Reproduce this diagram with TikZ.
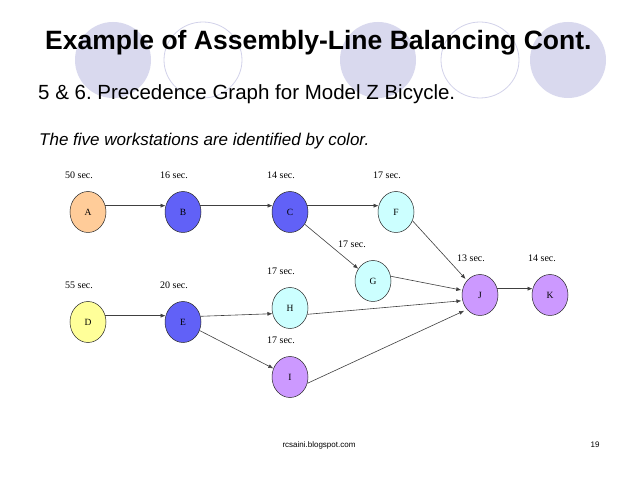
\documentclass[tikz,border=0pt]{standalone}
\usepackage{fontspec}
\setmainfont{Liberation Serif}
\newfontfamily\slidefont{Liberation Sans}
\usetikzlibrary{positioning,shapes.geometric,arrows.meta}

\definecolor{decofill}{HTML}{D9D9EE}
\definecolor{decoline}{HTML}{D2D2EA}
\definecolor{peach}{HTML}{FFCC99}
\definecolor{stationblue}{HTML}{6161F7}
\definecolor{paleyellow}{HTML}{FFFF99}
\definecolor{palecyan}{HTML}{CCFFFF}
\definecolor{lilac}{HTML}{CC99FF}

\frenchspacing

\begin{document}
\begin{tikzpicture}[x=1pt,y=-1pt,
    task/.style={ellipse, draw=black!85, line width=0.5pt, minimum width=36pt,
      minimum height=41pt, inner sep=0pt, font=\fontsize{9.5}{10}\selectfont},
    secs/.style={inner sep=0pt, font=\fontsize{10}{11}\selectfont},
    prec/.style={draw=black!75, line width=0.6pt, -{Latex[length=5pt,width=4pt]}}]
    \useasboundingbox[fill=white] (0,0) rectangle (638,478);

    % slide decoration
    \fill[decofill] (113,60) ellipse (38 and 38);
    \draw[decoline, line width=0.8pt] (203,60) ellipse (39 and 38);
    \fill[decofill] (378,60) ellipse (38 and 38);
    \draw[decoline, line width=0.8pt] (480,60) ellipse (39 and 38);
    \fill[decofill] (568,60) ellipse (38 and 38);

    % slide texts
    \node[anchor=base west, inner sep=0pt, font=\slidefont\bfseries\fontsize{26.5}{30}\selectfont]
      (title) at (45,50) {Example of Assembly-Line Balancing Cont.};
    \node[anchor=base west, inner sep=0pt, font=\slidefont\fontsize{20.5}{23}\selectfont]
      (sub) at (38,100) {5 \& 6. Precedence Graph for Model Z Bicycle.};
    \node[anchor=base west, inner sep=0pt, font=\slidefont\itshape\fontsize{17}{20}\selectfont]
      (note) at (39,146) {The five workstations are identified by color.};
    \node[inner sep=0pt, font=\slidefont\fontsize{8}{9}\selectfont] (site) at (319,445) {rcsaini.blogspot.com};
    \node[inner sep=0pt, font=\slidefont\fontsize{8}{9}\selectfont] (page) at (595,445) {19};

    % tasks
    \node[task, fill=peach] (A) at (88,212) {A};
    \node[task, fill=stationblue] (B) at (183,212) {B};
    \node[task, fill=stationblue] (C) at (290,212) {C};
    \node[task, fill=palecyan] (F) at (396,212) {F};
    \node[task, fill=palecyan] (G) at (373,281) {G};
    \node[task, fill=paleyellow] (D) at (88,322) {D};
    \node[task, fill=stationblue] (E) at (183,322) {E};
    \node[task, fill=palecyan] (H) at (290,308) {H};
    \node[task, fill=lilac] (I) at (290,377) {I};
    \node[task, fill=lilac] (J) at (480,295) {J};
    \node[task, fill=lilac] (K) at (550,295) {K};

    % task times
    \node[secs, above=12pt of A, xshift=-9pt] (tA) {50 sec.};
    \node[secs, above=12pt of B, xshift=-9pt] (tB) {16 sec.};
    \node[secs, above=12pt of C, xshift=-9pt] (tC) {14 sec.};
    \node[secs, above=12pt of F, xshift=-9pt] (tF) {17 sec.};
    \node[secs, above=12pt of G, xshift=-21pt] (tG) {17 sec.};
    \node[secs, above=12pt of D, xshift=-9pt] (tD) {55 sec.};
    \node[secs, above=12pt of E, xshift=-9pt] (tE) {20 sec.};
    \node[secs, above=12pt of H, xshift=-9pt] (tH) {17 sec.};
    \node[secs, above=12pt of I, xshift=-9pt] (tI) {17 sec.};
    \node[secs, above=12pt of J, xshift=-9pt] (tJ) {13 sec.};
    \node[secs, above=12pt of K, xshift=-8pt] (tK) {14 sec.};

    % precedence
    \draw[prec] (A.20) -- (B.160);
    \draw[prec] (B.20) -- (C.160);
    \draw[prec] (C.20) -- (F.160);
    \draw[prec] (C) -- (G);
    \draw[prec] (D.20) -- (E.160);
    \draw[prec] (E.18) -- (H.198);
    \draw[prec] (E) -- (I);
    \draw[prec, shorten >=2pt] (F.-28) -- (J.132);
    \draw[prec, shorten >=1pt] (G.15) -- (J.165);
    \draw[prec, shorten >=1pt] (H.-20) -- (J.198);
    \draw[prec, shorten >=3pt] (I.-20) -- (J.228);
    \draw[prec] (J.20) -- (K.160);
\end{tikzpicture}
\end{document}
